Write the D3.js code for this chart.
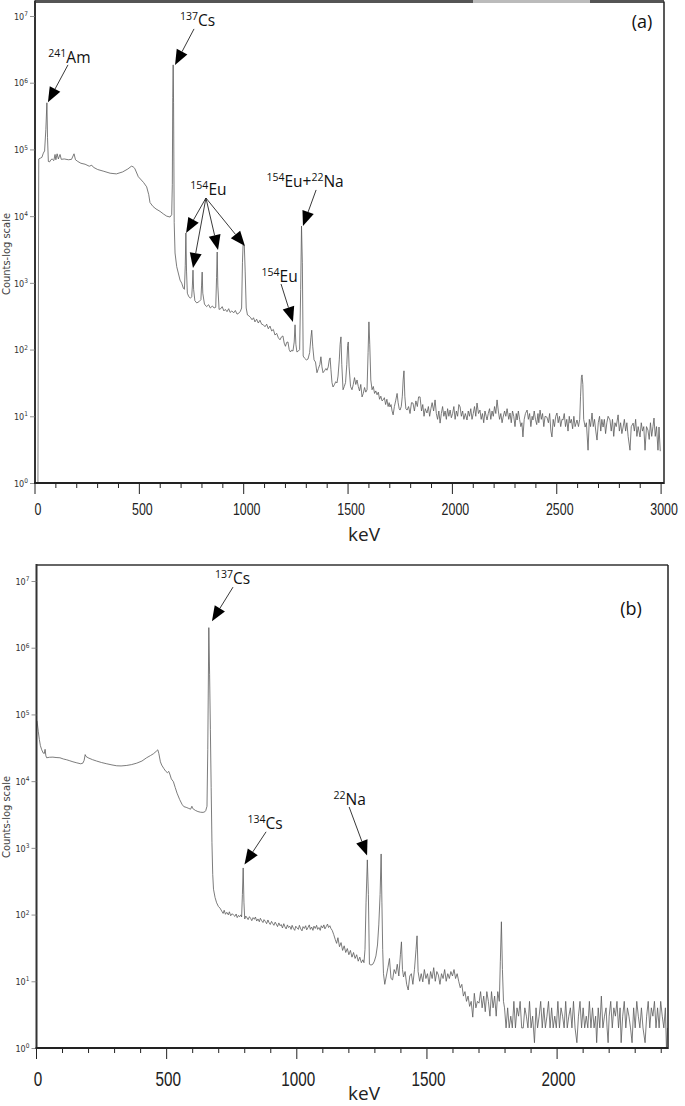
<!DOCTYPE html>
<html><head><meta charset="utf-8">
<script src="https://cdn.jsdelivr.net/npm/d3@7"></script>
<style>body{margin:0;background:#fff}svg{display:block}</style>
</head><body><svg id="c" width="685" height="1106"></svg>
<script>
// ---------------- data ----------------
const countTicks = [1, 10, 100, 1000, 10000, 100000, 1000000, 10000000];
const keVTicksA = [0, 500, 1000, 1500, 2000, 2500, 3000];
const keVTicksB = [0, 500, 1000, 1500, 2000];
const xTitle = "keV";
const yTitle = "Counts-log scale";
const panelLetters = ["(a)", "(b)"];

// [keV, counts]
const spectrumA = [
[0,1],[14,1],[18,72000],[26,74000],[33,76000],[40,88000],[46,95000],[52,200000],[57,500000],[60,150000],[64,66000],[70,65000],[76,70000],[82,72000],[90,68000],[96,84000],[100,70000],[106,86000],[112,72000],[120,84000],[126,71000],[140,72000],[160,70000],[175,71000],[187,86000],[194,70000],[205,66000],[220,62000],[240,60000],[260,56000],[272,58000],[280,54000],[300,50000],[330,47000],[360,44000],[390,43000],[420,46000],[445,51000],[462,56000],[470,55000],[478,52000],[495,39000],[520,32000],[535,27500],[545,21000],[551,16000],[565,14000],[580,12800],[599,11800],[615,10800],[631,10000],[647,9700],[655,10500],[658,30000],[660,600000],[662,1850000],[664,500000],[667,8000],[671,2800],[679,1750],[695,1100],[703,990],[711,830],[716,800],[720,1800],[723,5600],[726,1500],[730,700],[737,620],[745,590],[751,620],[754,900],[757,1550],[760,800],[766,540],[775,500],[785,520],[795,560],[798,900],[801,1450],[804,700],[812,480],[822,440],[832,470],[840,420],[850,450],[858,420],[866,430],[870,1200],[873,2900],[876,900],[882,400],[890,410],[897,440],[905,380],[912,400],[920,370],[928,410],[935,360],[943,380],[952,355],[960,385],[968,340],[976,350],[984,375],[990,420],[994,2000],[997,3700],[1003,3600],[1007,1500],[1012,420],[1018,330],[1025,320],[1032,305],[1040,280],[1047,300],[1054,260],[1062,285],[1070,250],[1078,275],[1086,240],[1094,235],[1102,220],[1110,240],[1118,205],[1126,225],[1134,190],[1142,200],[1150,165],[1158,175],[1166,150],[1174,140],[1181,155],[1188,160],[1194,125],[1200,112],[1206,128],[1212,130],[1218,100],[1224,92],[1230,98],[1236,95],[1242,130],[1246,235],[1250,120],[1255,92],[1262,95],[1268,100],[1273,800],[1277,7100],[1281,2000],[1285,80],[1292,74],[1300,70],[1308,72],[1316,90],[1322,150],[1326,195],[1331,110],[1337,70],[1344,65],[1351,45],[1358,52],[1365,60],[1370,78],[1375,55],[1380,45],[1387,48],[1394,52],[1399,49],[1405,55],[1410,70],[1414,75],[1418,50],[1423,32],[1428,27.5],[1435,30],[1441,33],[1447,31.6],[1452,40],[1458,70],[1462,120],[1466,155],[1470,60],[1476,25],[1482,28],[1488,32],[1494,60],[1498,115],[1501,130],[1505,55],[1512,28],[1519,25],[1525,30],[1531,38],[1537,30],[1543,35],[1549,28],[1555,24],[1561,30],[1567,19.5],[1573,22],[1579,27],[1585,23],[1591,25],[1596,90],[1600,260],[1604,120],[1609,35],[1615,25],[1621,28],[1627,22],[1633,24],[1639,21],[1645,23],[1651,18],[1657,20],[1663,17],[1668,17.6],[1674,19],[1680,15],[1686,18],[1692,14],[1697,16],[1701,13.8],[1706,15],[1711,12],[1716,10.5],[1722,14],[1728,17],[1735,22],[1740,16],[1745,13],[1749,12.4],[1755,14],[1760,20],[1764,35],[1768,48],[1772,20],[1777,13],[1783,12.4],[1790,14],[1797,11],[1804,16],[1811,15.8],[1818,12],[1825,17],[1832,14],[1838,19.5],[1845,19.5],[1852,12],[1858,15],[1864,10],[1870,13],[1878,11.2],[1885,14],[1891,10],[1897,13],[1903,16],[1910,12],[1917,17.6],[1923,11],[1929,9],[1935,12],[1941,7.9],[1947,11],[1953,14],[1959,10],[1965,12],[1971,9],[1977,13],[1983,10],[1989,12.4],[1995,9.5],[2001,11],[2007,14],[2013,9],[2019,12],[2025,10],[2031,15],[2037,13.8],[2043,10],[2049,12],[2055,9],[2062,11],[2070,8.8],[2076,12],[2082,10],[2088,13],[2094,9],[2100,11],[2106,14],[2112,10],[2118,15.8],[2125,11],[2132,12.4],[2138,9],[2144,11],[2150,8],[2156,12],[2162,10],[2166,8.8],[2172,11],[2178,13],[2184,9],[2190,12],[2196,10],[2202,14],[2208,11],[2214,17.6],[2220,12],[2226,9],[2232,11],[2238,8],[2243,9.7],[2250,12],[2256,10],[2262,13],[2270,9],[2276,11.2],[2282,8],[2288,12],[2294,10],[2300,7],[2306,11],[2310,8.8],[2316,12],[2322,9],[2328,7],[2333,8],[2338,4.9],[2344,9],[2350,11],[2358,12.4],[2364,9],[2370,11],[2376,7],[2382,10],[2386,8.8],[2392,12],[2398,9],[2404,7.5],[2410,11],[2414,8],[2420,12.4],[2426,9],[2432,11],[2438,7],[2444,10],[2453,9.7],[2460,8],[2466,11],[2472,6],[2477,4.9],[2483,9],[2489,7],[2495,10],[2501,11.2],[2507,8],[2513,10],[2519,7],[2525,9],[2530,8.8],[2536,11],[2542,7],[2548,9],[2554,6],[2560,10],[2564,7.9],[2570,9],[2576,6.5],[2582,10],[2588,7],[2597,8.8],[2604,7],[2610,9],[2614,20],[2618,38],[2621,41.7],[2625,30],[2629,9],[2636,6.9],[2642,8],[2650,3.1],[2656,9],[2662,7],[2669,11.2],[2675,7],[2681,9],[2687,6],[2693,4.4],[2699,8],[2705,10],[2711,6],[2716,9],[2722,6.9],[2728,9],[2734,5.5],[2740,8],[2746,10],[2755,8.8],[2761,6],[2767,9],[2773,5],[2779,8],[2785,7],[2794,10.5],[2800,6],[2806,8],[2812,5.5],[2818,6.9],[2824,9],[2830,6],[2836,8],[2842,5],[2851,3.1],[2857,7],[2866,7.9],[2872,6],[2878,9],[2884,5],[2890,7],[2899,4.9],[2905,8],[2911,6],[2917,7],[2923,3.1],[2930,7],[2937,6.2],[2943,4.5],[2949,8],[2955,5],[2961,7],[2966,9.4],[2972,5],[2978,7],[2985,3.1],[2990,6.9],[2996,3]
];

const spectrumB = [
[2,80000],[7,55000],[11,42000],[15,34000],[20,29500],[26,26300],[30,26000],[33,30000],[36,24000],[39,22400],[50,22800],[63,22900],[75,22600],[90,22400],[103,21500],[116,20900],[128,20200],[140,19500],[155,18800],[170,18200],[178,18600],[183,20500],[187,25000],[190,23500],[198,22400],[215,21000],[231,20000],[250,19000],[270,18200],[290,17500],[308,17000],[325,16900],[347,17200],[365,17700],[385,18600],[405,20000],[423,22400],[438,24200],[449,25700],[460,28000],[466,29500],[470,26000],[476,19500],[481,17400],[489,15500],[497,14000],[503,13400],[508,14000],[512,12800],[518,10800],[526,9800],[533,8000],[540,6600],[550,5300],[559,4500],[566,4150],[575,4050],[585,3900],[592,3800],[597,4200],[600,3900],[610,3650],[620,3500],[630,3420],[640,3400],[647,3480],[650,3600],[655,4200],[658,30000],[662,2000000],[665,400000],[668,60000],[671,8000],[674,1200],[677,400],[680,240],[686,180],[692,150],[699,132],[705,125],[712,112],[717,104],[721,116],[726,101],[731,108],[737,99],[741,110],[746,96],[752,103],[757,98],[762,94],[767,102],[771,90],[776,97],[780,93],[785,99],[788,92],[791,200],[794,500],[797,150],[800,86],[804,95],[809,89],[813,84],[818,93],[823,87],[827,81],[832,90],[837,85],[841,92],[846,80],[851,86],[856,78],[860,88],[865,81],[870,76],[874,84],[879,79],[884,73],[889,83],[893,76],[898,71],[903,79],[907,74],[912,69],[917,77],[921,72],[926,66],[931,75],[936,68],[940,71],[945,63],[950,73],[954,66],[959,61],[964,70],[968,64],[973,67],[978,60],[982,69],[987,62],[992,58],[996,67],[1001,63],[1006,60],[1010,69],[1015,61],[1020,57],[1024,66],[1029,62],[1034,68],[1038,59],[1043,64],[1048,70],[1052,60],[1057,65],[1062,58],[1066,67],[1071,62],[1076,69],[1080,60],[1085,64],[1090,58],[1094,68],[1099,63],[1104,70],[1108,61],[1113,66],[1118,72],[1122,64],[1127,68],[1131,62],[1136,58],[1142,50],[1148,42],[1153,37],[1158,45],[1164,33],[1170,38],[1176,29],[1182,34],[1188,27],[1194,31],[1200,25],[1206,29],[1212,23],[1218,27],[1224,22],[1230,25],[1236,20],[1242,23],[1248,19],[1254,21],[1258,19],[1262,30],[1266,150],[1271,660],[1275,200],[1279,18],[1285,17.5],[1292,18],[1298,20],[1304,24],[1310,35],[1315,70],[1320,200],[1324,810],[1327,150],[1330,30],[1333,13],[1338,9],[1344,12],[1350,16],[1356,22],[1362,11],[1368,10.5],[1374,15],[1380,13],[1386,18],[1392,12],[1398,25],[1402,39],[1406,15],[1410,11.6],[1416,14],[1422,9],[1428,7.4],[1434,12],[1440,13],[1446,9],[1452,15],[1458,30],[1462,48],[1466,14],[1472,10],[1478,13],[1484,9.8],[1490,15],[1496,11],[1502,13],[1508,9],[1514,14],[1520,11],[1526,16],[1532,10],[1538,14],[1544,12.4],[1550,9],[1556,13],[1562,11],[1568,15],[1574,10],[1580,13],[1586,11],[1592,14],[1598,12],[1604,15],[1610,11],[1616,13],[1622,10],[1628,8],[1634,9],[1640,6],[1646,7],[1652,5],[1658,6],[1664,4.2],[1670,5],[1676,2.9],[1682,6.6],[1688,4],[1694,5],[1700,4.7],[1706,7],[1712,4],[1718,6],[1724,3.5],[1730,7],[1736,5],[1742,3],[1748,7],[1754,4],[1760,6],[1766,3],[1772,7],[1778,5],[1782,20],[1786,78],[1790,15],[1794,5],[1798,4],[1804,2],[1810,4],[1816,2],[1822,3],[1828,2],[1834,5],[1840,2],[1846,4],[1852,3],[1858,5],[1864,2],[1870,2],[1876,4],[1882,3],[1888,2],[1894,5],[1900,2],[1906,3],[1913,1.2],[1919,4],[1925,2],[1931,3],[1937,5],[1943,2],[1949,4],[1955,2],[1961,3],[1967,5],[1973,2],[1979,4],[1985,2],[1991,3],[1997,2],[2003,5],[2009,2],[2015,4],[2021,3],[2027,2],[2033,5],[2039,2],[2045,3],[2051,4],[2057,2],[2063,5],[2069,2],[2076,1.2],[2082,3],[2088,5],[2094,2],[2100,4],[2106,2],[2112,3],[2118,2],[2124,5],[2130,2],[2136,4],[2142,2],[2148,3],[2152,1.2],[2158,4],[2164,2],[2170,6],[2176,2],[2182,3],[2188,4],[2192,2],[2196,1.2],[2200,3],[2206,5],[2212,2],[2218,4],[2224,3],[2230,5],[2236,2],[2242,4],[2246,1.2],[2252,3],[2258,5],[2264,2],[2270,4],[2276,3],[2282,2],[2288,1.2],[2294,4],[2300,2],[2306,5],[2312,3],[2318,2],[2324,4],[2330,2],[2338,1.2],[2344,3],[2350,5],[2356,2],[2362,4],[2368,3],[2374,5],[2380,2],[2386,4],[2392,2],[2398,5],[2404,3],[2410,2],[2416,4],[2420,1],[2424,2]
];

// annotations: label parts [text, isSuperscript], label anchor / arrow tail / arrow tips in [keV, counts]
const annotationsA = [
  {parts:[["241",1],["Am",0]], label:[165,2.0e6], tail:[158,1.85e6], tips:[[62,5.1e5]]},
  {parts:[["137",1],["Cs",0]], label:[779,7.2e6], tail:[762,6.4e6], tips:[[671,1.85e6]]},
  {parts:[["154",1],["Eu",0]], label:[831,21000], tail:[819,18700], tips:[[724,5600],[757,1670],[877,3100],[1006,3560]]},
  {parts:[["154",1],["Eu+",0],["22",1],["Na",0]], label:[1294,27400], tail:[1347,24700], tips:[[1284,7100]]},
  {parts:[["154",1],["Eu",0]], label:[1172,1030], tail:[1179,960], tips:[[1236,260]]}
];
const annotationsB = [
  {parts:[["137",1],["Cs",0]], label:[753,9.1e6], tail:[755,8.1e6], tips:[[674,2.5e6]]},
  {parts:[["134",1],["Cs",0]], label:[878,1920], tail:[882,1740], tips:[[799,565]]},
  {parts:[["22",1],["Na",0]], label:[1203,4400], tail:[1201,4100], tips:[[1270,770]]}
];

// ---------------- drawing ----------------
const svg = d3.select("#c");
svg.append("rect").attr("width",685).attr("height",1106).attr("fill","#fff");

function arrow(g, x0, y0, x1, y1) {
  const dx = x1-x0, dy = y1-y0, L = Math.hypot(dx,dy), ux = dx/L, uy = dy/L;
  const hl = 15, hw = 6;
  const bx = x1-ux*hl, by = y1-uy*hl;
  g.append("line").attr("x1",x0).attr("y1",y0).attr("x2",bx).attr("y2",by)
    .attr("stroke","#222").attr("stroke-width",0.9);
  g.append("path").attr("d",`M${x1},${y1}L${bx-uy*hw},${by+ux*hw}L${bx+uy*hw},${by-ux*hw}Z`)
    .attr("fill","#000");
}

function panel(o) {
  const g = svg.append("g");
  const x = d3.scaleLinear().domain([0, o.xMax]).range([o.left, o.xMaxPx]);
  const y = d3.scaleLog().domain([1, 1e7]).range([o.bottom, o.top7]);

  // spectrum
  const line = d3.line().x(d => x(d[0])).y(d => y(d[1]));
  g.append("path").datum(o.data).attr("d", line).attr("fill","none")
    .attr("stroke","#5a5a5a").attr("stroke-width",0.8).attr("stroke-linejoin","round");

  // frame
  if (o.topStyle === "a") {
    g.append("line").attr("x1",o.left).attr("x2",o.right).attr("y1",o.frameTop).attr("y2",o.frameTop)
      .attr("stroke","#555").attr("stroke-width",3);
    g.append("line").attr("x1",473).attr("x2",590).attr("y1",o.frameTop).attr("y2",o.frameTop)
      .attr("stroke","#bbb").attr("stroke-width",3.2);
  } else {
    g.append("line").attr("x1",o.left).attr("x2",o.right).attr("y1",o.frameTop).attr("y2",o.frameTop)
      .attr("stroke","#333").attr("stroke-width",1.6);
  }
  g.append("line").attr("x1",o.right).attr("x2",o.right).attr("y1",o.frameTop).attr("y2",o.bottom+1)
    .attr("stroke","#222").attr("stroke-width",1.5);
  g.append("line").attr("x1",o.left).attr("x2",o.left).attr("y1",o.frameTop-1).attr("y2",o.bottom+1)
    .attr("stroke","#333").attr("stroke-width",2);

  // y axis ticks + labels
  const ya = d3.axisLeft(y).tickValues(countTicks).tickSize(5).tickPadding(2).tickFormat(() => "10");
  const yg = g.append("g").attr("transform",`translate(${o.left},0)`).call(ya);
  yg.select(".domain").remove();
  yg.selectAll(".tick line").attr("stroke","#777").attr("stroke-width",0.8);
  yg.selectAll(".tick text")
    .attr("font-family","'DejaVu Sans Condensed','Liberation Sans Narrow','DejaVu Sans',sans-serif")
    .attr("font-size",9).attr("fill","#333").attr("dy","0.35em")
    .each(function(d) {
      const t = d3.select(this);
      t.append("tspan").attr("font-size",6.5).attr("dy","-0.55em").text(Math.round(Math.log10(d)));
    });

  // x axis
  g.append("line").attr("x1",o.left-1).attr("x2",o.right).attr("y1",o.bottom).attr("y2",o.bottom)
    .attr("stroke","#222").attr("stroke-width",2);
  const minor = d3.range(0, o.xMax+1, 100);
  g.selectAll(null).data(minor).join("line")
    .attr("x1",d=>x(d)).attr("x2",d=>x(d)).attr("y1",o.bottom)
    .attr("y2",d=> d % 500 === 0 ? o.bottom+11 : o.bottom+5)
    .attr("stroke","#222").attr("stroke-width",1);
  const sx = o.digitW / (0.556 * o.labelSize);
  g.selectAll(null).data(o.ticks).join("text")
    .attr("transform",d=>`translate(${x(d)+o.labelDx},${o.labelY}) scale(${sx},1)`)
    .attr("text-anchor","middle")
    .attr("font-family","'Liberation Sans',Arial,sans-serif").attr("font-size",o.labelSize)
    .attr("fill","#222")
    .text(d=>d);
  g.append("text").attr("x",364).attr("y",o.titleY).attr("text-anchor","middle")
    .attr("font-family","'Open Sans',sans-serif").attr("font-size",19).attr("fill","#222").text(xTitle);

  // y title
  g.append("text").attr("transform",`translate(10,${o.yTitleY}) rotate(-90)`)
    .attr("text-anchor","middle").attr("font-family","'DejaVu Sans Condensed','DejaVu Sans',sans-serif")
    .attr("font-size",10).attr("fill","#444").attr("textLength",82).attr("lengthAdjust","spacingAndGlyphs")
    .text(yTitle);

  // panel letter
  g.append("text").attr("x",o.letterX).attr("y",o.letterY).attr("text-anchor","middle")
    .attr("font-family","'Open Sans',sans-serif").attr("font-size",18).attr("fill","#111").text(o.letter);

  // annotations
  o.ann.forEach(a => {
    const t = g.append("text").attr("x",x(a.label[0])).attr("y",y(a.label[1]))
      .attr("text-anchor","middle").attr("font-family","'Open Sans',sans-serif").attr("fill","#111");
    let raised = false;
    a.parts.forEach(p => {
      const ts = t.append("tspan").text(p[0]);
      if (p[1]) { ts.attr("font-size",10.5); if (!raised) { ts.attr("dy",-6); raised = true; } }
      else { ts.attr("font-size",15.5); if (raised) { ts.attr("dy",6); raised = false; } }
    });
    a.tips.forEach(tp => arrow(g, x(a.tail[0]), y(a.tail[1]), x(tp[0]), y(tp[1])));
  });
}

panel({data:spectrumA, xMax:3000, left:35, xMaxPx:661.1, right:664, bottom:483, top7:16, frameTop:1.5,
  topStyle:"a", ticks:keVTicksA, labelDx:3, labelY:515, labelSize:17, digitW:6.9, titleY:541,
  yTitleY:254, letter:panelLetters[0], letterX:642, letterY:28, ann:annotationsA});
panel({data:spectrumB, xMax:2425, left:36.5, xMaxPx:36.5+2425*0.2603, right:668, bottom:1048, top7:581, frameTop:565,
  topStyle:"b", ticks:keVTicksB, labelDx:1.5, labelY:1086, labelSize:21, digitW:8.5, titleY:1100,
  yTitleY:817, letter:panelLetters[1], letterX:631, letterY:615, ann:annotationsB});
</script></body></html>
